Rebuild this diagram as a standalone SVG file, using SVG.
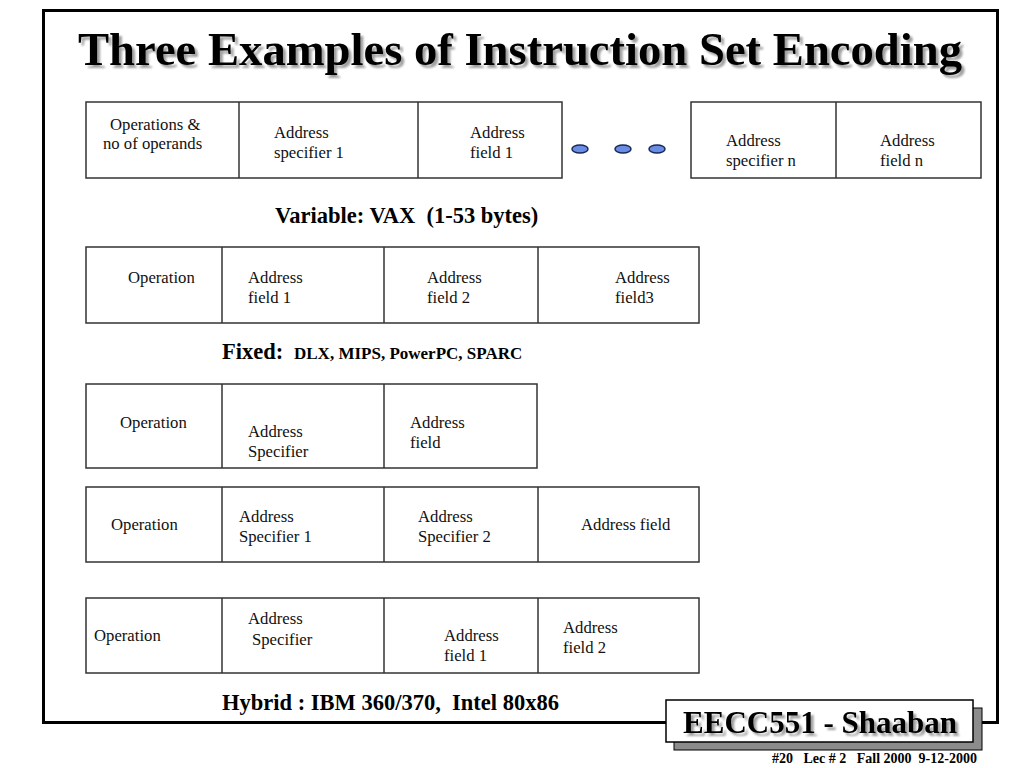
<svg xmlns="http://www.w3.org/2000/svg" width="1024" height="768" viewBox="0 0 1024 768">
<defs>
<filter id="shadow" x="-5%" y="-20%" width="110%" height="150%">
<feGaussianBlur in="SourceAlpha" stdDeviation="0.8"/>
<feOffset dx="3" dy="3" result="o"/>
<feComponentTransfer><feFuncA type="linear" slope="0.38"/></feComponentTransfer>
<feMerge><feMergeNode/><feMergeNode in="SourceGraphic"/></feMerge>
</filter>
</defs>
<style>
.cell{fill:#fff;stroke:#333;stroke-width:1.5}
.div{stroke:#333;stroke-width:1.5}
.t{font-family:"Liberation Serif","Times New Roman",serif;font-size:16.7px;fill:#111}
.b{font-family:"Liberation Serif","Times New Roman",serif;font-weight:bold;fill:#000}
.dot{fill:#6a8ee6;stroke:#1a2a55;stroke-width:1.5}
</style>
<rect width="1024" height="768" fill="#fff"/>
<g id="frame">
<rect x="43.5" y="10.5" width="954" height="712" fill="none" stroke="#000" stroke-width="3"/>
</g>
<g id="title">
<text class="b" x="78" y="65" font-size="47" textLength="884" lengthAdjust="spacingAndGlyphs" filter="url(#shadow)">Three Examples of Instruction Set Encoding</text>
</g>
<g id="vax">
<rect class="cell" x="86" y="102" width="476" height="76"/>
<line class="div" x1="239" y1="102" x2="239" y2="178"/>
<line class="div" x1="418" y1="102" x2="418" y2="178"/>
<text class="t" x="110" y="130">Operations &amp;</text>
<text class="t" x="103" y="149">no of operands</text>
<text class="t" x="274" y="138">Address</text>
<text class="t" x="274" y="158">specifier 1</text>
<text class="t" x="470" y="138">Address</text>
<text class="t" x="470" y="158">field 1</text>
<ellipse class="dot" cx="580" cy="149" rx="8" ry="4"/>
<ellipse class="dot" cx="623" cy="149" rx="8" ry="4"/>
<ellipse class="dot" cx="657" cy="149" rx="8" ry="4"/>
<rect class="cell" x="691" y="102" width="290" height="76"/>
<line class="div" x1="836" y1="102" x2="836" y2="178"/>
<text class="t" x="726" y="146">Address</text>
<text class="t" x="726" y="166">specifier n</text>
<text class="t" x="880" y="146">Address</text>
<text class="t" x="880" y="166">field n</text>
<text class="b" x="275" y="223" font-size="22.5" xml:space="preserve">Variable: VAX  (1-53 bytes)</text>
</g>
<g id="fixed">
<rect class="cell" x="86" y="247" width="613" height="76"/>
<line class="div" x1="222" y1="247" x2="222" y2="323"/>
<line class="div" x1="384" y1="247" x2="384" y2="323"/>
<line class="div" x1="538" y1="247" x2="538" y2="323"/>
<text class="t" x="128" y="283">Operation</text>
<text class="t" x="248" y="283">Address</text>
<text class="t" x="248" y="303">field 1</text>
<text class="t" x="427" y="283">Address</text>
<text class="t" x="427" y="303">field 2</text>
<text class="t" x="615" y="283">Address</text>
<text class="t" x="615" y="303">field3</text>
<text class="b" x="222" y="359" font-size="22.5">Fixed:</text>
<text class="b" x="294" y="359" font-size="17">DLX, MIPS, PowerPC, SPARC</text>
</g>
<g id="hybrid1">
<rect class="cell" x="86" y="384" width="451" height="84"/>
<line class="div" x1="222" y1="384" x2="222" y2="468"/>
<line class="div" x1="384" y1="384" x2="384" y2="468"/>
<text class="t" x="120" y="428">Operation</text>
<text class="t" x="248" y="437">Address</text>
<text class="t" x="248" y="457">Specifier</text>
<text class="t" x="410" y="428">Address</text>
<text class="t" x="410" y="448">field</text>
</g>
<g id="hybrid2">
<rect class="cell" x="86" y="487" width="613" height="75"/>
<line class="div" x1="222" y1="487" x2="222" y2="562"/>
<line class="div" x1="384" y1="487" x2="384" y2="562"/>
<line class="div" x1="538" y1="487" x2="538" y2="562"/>
<text class="t" x="111" y="530">Operation</text>
<text class="t" x="239" y="522">Address</text>
<text class="t" x="239" y="542">Specifier 1</text>
<text class="t" x="418" y="522">Address</text>
<text class="t" x="418" y="542">Specifier 2</text>
<text class="t" x="581" y="530">Address field</text>
</g>
<g id="hybrid3">
<rect class="cell" x="86" y="598" width="613" height="75"/>
<line class="div" x1="222" y1="598" x2="222" y2="673"/>
<line class="div" x1="384" y1="598" x2="384" y2="673"/>
<line class="div" x1="538" y1="598" x2="538" y2="673"/>
<text class="t" x="94" y="641">Operation</text>
<text class="t" x="248" y="624">Address</text>
<text class="t" x="252" y="645">Specifier</text>
<text class="t" x="444" y="641">Address</text>
<text class="t" x="444" y="661">field 1</text>
<text class="t" x="563" y="633">Address</text>
<text class="t" x="563" y="653">field 2</text>
<text class="b" x="222" y="710" font-size="22.5" xml:space="preserve">Hybrid : IBM 360/370,  Intel 80x86</text>
</g>
<g id="footer">
<rect x="674" y="708" width="308" height="42" fill="#8c8c8c" stroke="#000" stroke-width="1"/>
<rect x="666" y="700" width="307" height="42" fill="#fff" stroke="#000" stroke-width="1.5"/>
<text class="b" x="820" y="733" font-size="31" text-anchor="middle" filter="url(#shadow)">EECC551 - Shaaban</text>
<text class="b" x="772" y="763" font-size="14" xml:space="preserve">#20   Lec # 2   Fall 2000  9-12-2000</text>
</g>
</svg>
